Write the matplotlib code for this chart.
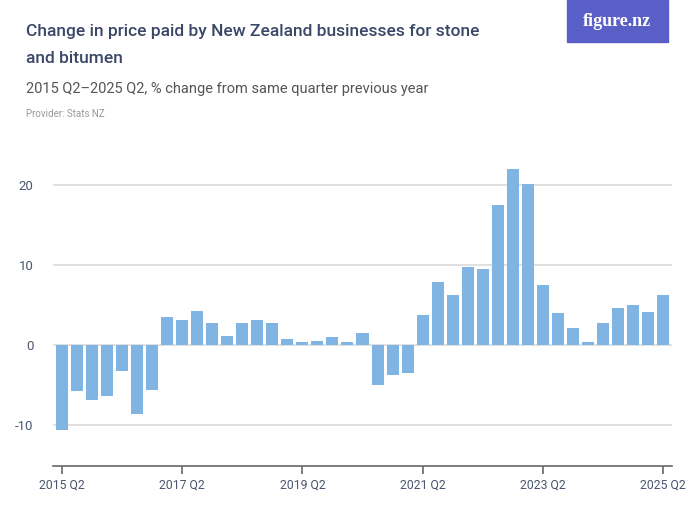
import matplotlib
matplotlib.use("Agg")
from matplotlib import pyplot as plt
from matplotlib.patches import Rectangle

# quarters 2015 Q2 .. 2025 Q2
quarters = [f"{y} Q{q}" for y in range(2015, 2026) for q in range(1, 5)][1:42]
values = [-10.6, -5.75, -6.8, -6.4, -3.2, -8.6, -5.6,
          3.55, 3.15, 4.2, 2.7, 1.1, 2.7, 3.15, 2.75, 0.8,
          0.33, 0.55, 0.95, 0.33, 1.5, -5.0, -3.75, -3.45,
          3.8, 7.85, 6.25, 9.7, 9.55, 17.5, 21.95, 20.05,
          7.55, 3.95, 2.1, 0.33, 2.75, 4.6, 5.0, 4.1, 6.2]
tick_labels = ["2015 Q2", "2017 Q2", "2019 Q2", "2021 Q2", "2023 Q2", "2025 Q2"]
y_ticks = [-10, 0, 10, 20]

plt.rcParams['font.family'] = ['Roboto', 'DejaVu Sans']

W, H = 700, 525
fig = plt.figure(figsize=(7, 5.25), dpi=100)

ax = fig.add_axes([53 / W, 59 / H, (672 - 53) / W, (466 - 160) / H])
x = list(range(len(values)))
ax.bar(x, values, width=0.8, color="#7fb4e3", zorder=3)
ax.set_xlim(-0.6, 40.6)
ax.set_ylim(-15.1, 23.1)

for v in y_ticks:
    ax.axhline(v, color="#e0e0e0", lw=1.4, zorder=1)

for s in ["top", "right", "left"]:
    ax.spines[s].set_visible(False)
ax.spines["bottom"].set_color("#666666")
ax.spines["bottom"].set_linewidth(1.2)

ax.set_yticks(y_ticks)
ax.set_yticklabels([str(v) for v in y_ticks])
ax.tick_params(axis="y", length=0, pad=14, labelsize=9.5, labelcolor="#4a5570")

tick_pos = [quarters.index(t) for t in tick_labels]
ax.set_xticks(tick_pos)
ax.set_xticklabels(tick_labels)
ax.tick_params(axis="x", length=6, width=1.2, color="#666666", pad=3,
               labelsize=8.8, labelcolor="#4a5570")

# titles
fig.text(26 / W, 1 - 36 / H, "Change in price paid by New Zealand businesses for stone",
         fontsize=12.5, color="#3a4766", fontweight="medium", va="baseline")
fig.text(26 / W, 1 - 63 / H, "and bitumen",
         fontsize=12.5, color="#3a4766", fontweight="medium", va="baseline")
fig.text(26 / W, 1 - 93 / H, "2015 Q2\u20132025 Q2, % change from same quarter previous year",
         fontsize=10.5, color="#555555", va="baseline")
fig.text(26 / W, 1 - 117 / H, "Provider: Stats NZ",
         fontsize=7, color="#999999", va="baseline")

# logo
fig.patches.append(Rectangle((567 / W, 1 - 42 / H), 101 / W, 42 / H,
                             transform=fig.transFigure, color="#5a5fc7"))
fig.text(617 / W, 1 - 21 / H, "figure.nz", fontsize=13, color="white",
         fontweight="bold", ha="center", va="center",
         family=["Liberation Serif", "DejaVu Serif"])

fig.savefig("out.png", dpi=100)
